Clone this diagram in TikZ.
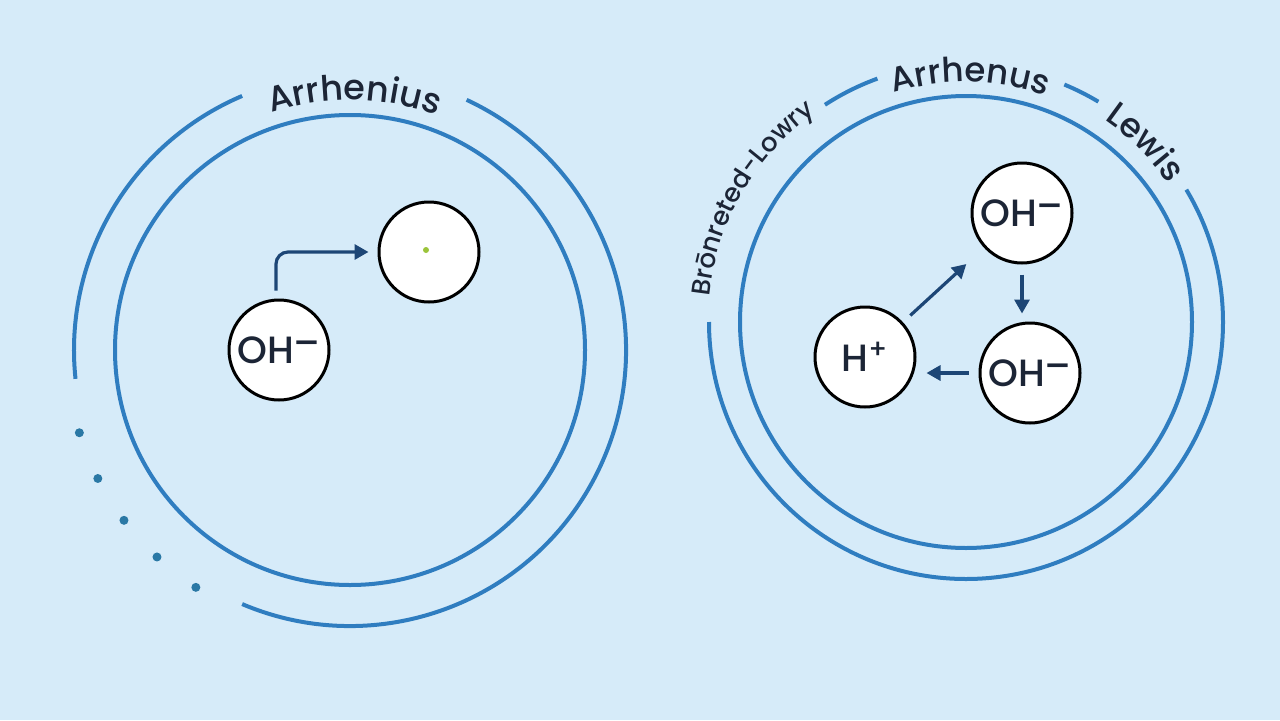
\documentclass[tikz,border=0pt]{standalone}
\usepackage{fontspec}
\setmainfont{Poppins}
\newfontfamily\medfont{Poppins Medium}
\usetikzlibrary{arrows.meta,decorations.text,calc}

\definecolor{bgblue}{HTML}{D6EBF9}
\definecolor{ringblue}{HTML}{2F7DC0}
\definecolor{dotblue}{HTML}{2A78A5}
\definecolor{arrownavy}{HTML}{1D4676}
\definecolor{inkdark}{HTML}{1C2536}
\definecolor{speck}{HTML}{9BC43A}

\begin{document}
\begin{tikzpicture}[x=0.5pt, y=0.5pt,
    ring/.style={draw=ringblue, line width=2pt},
    ion/.style={circle, draw=black, line width=1.5pt, fill=white,
      minimum size=50pt, inner sep=0pt, text=inkdark,
      font=\medfont\fontsize{19}{19}\selectfont},
    flow/.style={draw=arrownavy, line width=1.6pt,
      -{Triangle[length=7pt,width=7.5pt]}},
    arclabel/.style={decorate,
      decoration={text along path, text align=center, text color=inkdark}}
  ]
  \useasboundingbox (0,0) rectangle (1280,720);
  \fill[bgblue] (0,0) rectangle (1280,720);

  \coordinate (lc) at (350,370);
  \coordinate (rc) at (966,398);

  % left picture: rings
  \draw[ring] (lc) circle[radius=235];
  \draw[ring] ($(lc)+(65:276)$) arc[start angle=65, end angle=-113, radius=276];
  \draw[ring] ($(lc)+(113:276)$) arc[start angle=113, end angle=186, radius=276];
  \foreach \a in {197,207,...,237}
    \fill[dotblue] ($(lc)+(\a:283)$) circle[radius=4.5];
  \path[arclabel, decoration={text={|\medfont\fontsize{17.5}{17.5}\selectfont|Arrhenius}}]
    ($(lc)+(119:250)$) arc[start angle=119, end angle=59, radius=250];

  % left picture: ions
  \node[ion] (ohleft) at (279,370) {OH\raisebox{.3ex}{–}};
  \node[ion] (blank) at (429,468) {};
  \fill[speck] ($(blank.center)+(-3,2)$) circle[radius=3];
  \draw[flow, rounded corners=6pt, shorten <=4pt, shorten >=4.5pt]
    ([xshift=-1.5pt]ohleft.north) |- (blank.west);

  % right picture: rings
  \draw[ring] (rc) circle[radius=226];
  \draw[ring] ($(rc)+(180:257)$) arc[start angle=180, end angle=391, radius=257];
  \draw[ring] ($(rc)+(123:259)$) arc[start angle=123, end angle=110, radius=259];
  \draw[ring] ($(rc)+(67.5:257)$) arc[start angle=67.5, end angle=59, radius=257];
  \path[arclabel, decoration={text={|\medfont\fontsize{17}{17}\selectfont|Arrhenus}}]
    ($(rc)+(110:240)$) arc[start angle=110, end angle=68, radius=240];
  \path[arclabel, decoration={text={|\medfont\fontsize{17}{17}\selectfont|Lewis}}]
    ($(rc)+(58:245)$) arc[start angle=58, end angle=32, radius=245];
  \path[arclabel, decoration={text={|\medfont\fontsize{13}{13}\selectfont|Brōnreted-Lowry}}]
    ($(rc)+(178:258)$) arc[start angle=178, end angle=122, radius=258];

  % right picture: ions
  \node[ion] (ohtop) at (1022,507) {OH\raisebox{.3ex}{–}};
  \node[ion] (hplus) at (865,363) {H\textsuperscript{+}};
  \node[ion] (ohbottom) at (1030,347) {OH\raisebox{.3ex}{–}};
  \draw[flow, shorten <=5pt, shorten >=12pt] (hplus) -- (ohtop);
  \draw[flow, shorten <=5pt, shorten >=4pt] (ohtop.south) -- (ohtop.south |- ohbottom.north);
  \draw[flow, shorten <=5pt, shorten >=5pt] (ohbottom.west) -- (ohbottom.west -| hplus.east);
\end{tikzpicture}
\end{document}
